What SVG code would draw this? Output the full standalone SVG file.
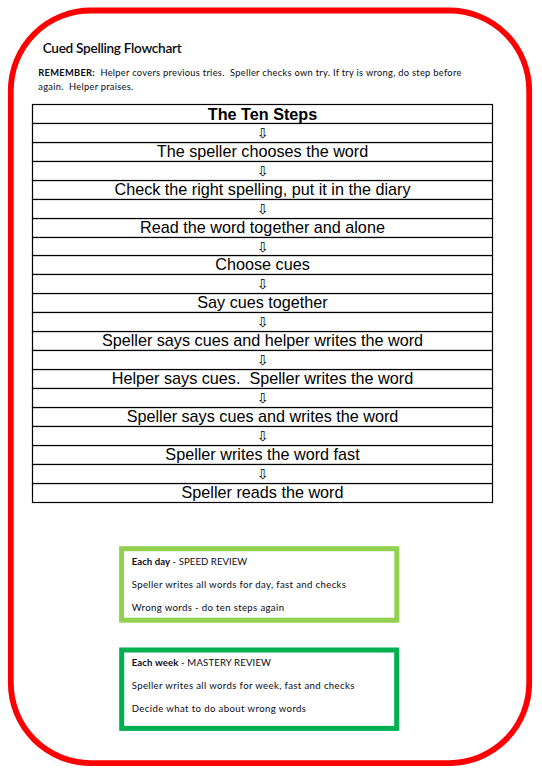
<svg xmlns="http://www.w3.org/2000/svg" width="542" height="775" viewBox="0 0 542 775">
<style>
.frame{fill:none;stroke:#ff0000;stroke-width:5.8}
.cal{font-family:Lato,"Open Sans","Liberation Sans",sans-serif;fill:#0a0a14;white-space:pre}
.title{font-size:13.6px;font-weight:600}
.small{font-size:9.3px}
.box{font-size:9.6px}
.b{font-weight:bold}
.row{fill:#fff;stroke:#000;stroke-width:1.2}
.step{font-family:"Liberation Sans",Arial,sans-serif;font-size:16.2px;fill:#000;text-anchor:middle}
.hdr{font-weight:bold}
.arr{font-family:"DejaVu Sans",sans-serif;font-size:14px;fill:#000;text-anchor:middle}
.day{fill:#fff;stroke:#92d050;stroke-width:5}
.week{fill:#fff;stroke:#00b050;stroke-width:5}
</style>
<rect width="542" height="775" fill="#fff"/>
<rect class="frame" x="10.8" y="10.5" width="518.4" height="752.6" rx="80" ry="80"/>
<g id="header">
<text class="cal title" x="42.7" y="53.3" textLength="139">Cued Spelling Flowchart</text>
<text class="cal small" x="38.3" y="76" textLength="423"><tspan class="b">REMEMBER:</tspan>  Helper covers previous tries.  Speller checks own try. If try is wrong, do step before</text>
<text class="cal small" x="38.3" y="90" textLength="95">again.  Helper praises.</text>
</g>
<g id="table">
<rect class="row" x="32.5" y="104.5" width="460" height="19"/>
<text class="step hdr" x="262.5" y="119.5">The Ten Steps</text>
</g>
<g id="step1">
<rect class="row" x="32.5" y="142.5" width="460" height="19"/>
<text class="step" x="262.5" y="157.3">The speller chooses the word</text>
</g>
<g id="step2">
<rect class="row" x="32.5" y="180.5" width="460" height="19"/>
<text class="step" x="262.5" y="195.3">Check the right spelling, put it in the diary</text>
</g>
<g id="step3">
<rect class="row" x="32.5" y="218.5" width="460" height="19"/>
<text class="step" x="262.5" y="233.3">Read the word together and alone</text>
</g>
<g id="step4">
<rect class="row" x="32.5" y="255.5" width="460" height="19"/>
<text class="step" x="262.5" y="270.3">Choose cues</text>
</g>
<g id="step5">
<rect class="row" x="32.5" y="293.5" width="460" height="19"/>
<text class="step" x="262.5" y="308.3">Say cues together</text>
</g>
<g id="step6">
<rect class="row" x="32.5" y="331.5" width="460" height="19"/>
<text class="step" x="262.5" y="346.3">Speller says cues and helper writes the word</text>
</g>
<g id="step7">
<rect class="row" x="32.5" y="369.5" width="460" height="19"/>
<text class="step" x="262.5" y="384.3" style="white-space:pre">Helper says cues.  Speller writes the word</text>
</g>
<g id="step8">
<rect class="row" x="32.5" y="407.5" width="460" height="19"/>
<text class="step" x="262.5" y="422.3">Speller says cues and writes the word</text>
</g>
<g id="step9">
<rect class="row" x="32.5" y="445.5" width="460" height="19"/>
<text class="step" x="262.5" y="460.3">Speller writes the word fast</text>
</g>
<g id="step10">
<rect class="row" x="32.5" y="483.5" width="460" height="19"/>
<text class="step" x="262.5" y="498.3">Speller reads the word</text>
</g>
<g id="connectors">
<rect class="row" x="32.5" y="123.5" width="460" height="19"/>
<rect class="row" x="32.5" y="161.5" width="460" height="19"/>
<rect class="row" x="32.5" y="199.5" width="460" height="19"/>
<rect class="row" x="32.5" y="237.5" width="460" height="18"/>
<rect class="row" x="32.5" y="274.5" width="460" height="19"/>
<rect class="row" x="32.5" y="312.5" width="460" height="19"/>
<rect class="row" x="32.5" y="350.5" width="460" height="19"/>
<rect class="row" x="32.5" y="388.5" width="460" height="19"/>
<rect class="row" x="32.5" y="426.5" width="460" height="19"/>
<rect class="row" x="32.5" y="464.5" width="460" height="19"/>
<text class="arr" x="262.5" y="138">⇩</text>
<text class="arr" x="262.5" y="176">⇩</text>
<text class="arr" x="262.5" y="214">⇩</text>
<text class="arr" x="262.5" y="251.5">⇩</text>
<text class="arr" x="262.5" y="289">⇩</text>
<text class="arr" x="262.5" y="327">⇩</text>
<text class="arr" x="262.5" y="365">⇩</text>
<text class="arr" x="262.5" y="403">⇩</text>
<text class="arr" x="262.5" y="441">⇩</text>
<text class="arr" x="262.5" y="479">⇩</text>
</g>
<g id="daily">
<rect class="day" x="121.6" y="548.7" width="275.2" height="71.5"/>
<text class="cal box" x="131.7" y="565" textLength="115.6"><tspan class="b">Each day</tspan> - SPEED REVIEW</text>
<text class="cal box" x="131.7" y="587.7" textLength="214.3">Speller writes all words for day, fast and checks</text>
<text class="cal box" x="131.7" y="610.7" textLength="152.3">Wrong words - do ten steps again</text>
</g>
<g id="weekly">
<rect class="week" x="121.7" y="650" width="275" height="78.4"/>
<text class="cal box" x="131.7" y="665.7" textLength="139.3"><tspan class="b">Each week</tspan> - MASTERY REVIEW</text>
<text class="cal box" x="131.7" y="688.7" textLength="222.6">Speller writes all words for week, fast and checks</text>
<text class="cal box" x="131.7" y="711.7" textLength="174.3">Decide what to do about wrong words</text>
</g>
</svg>
